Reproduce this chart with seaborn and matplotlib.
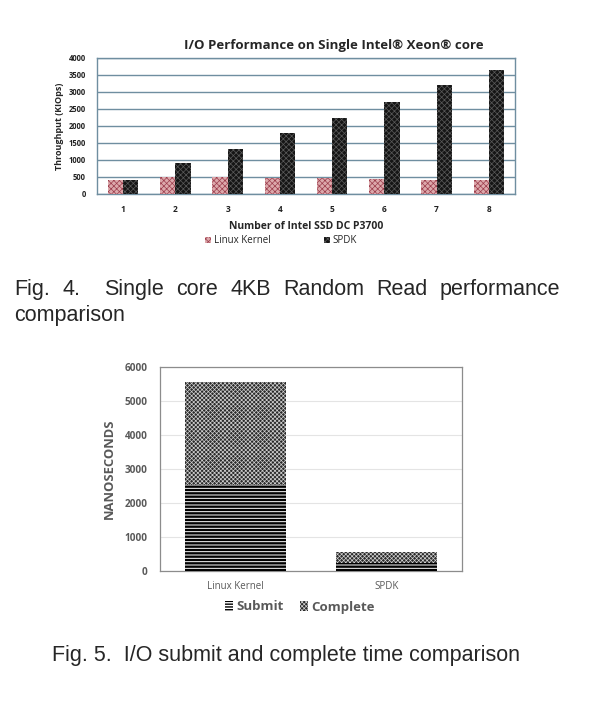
import pandas as pd
import seaborn as sns
import matplotlib
matplotlib.use("Agg")
from matplotlib import pyplot as plt
from matplotlib.patches import Patch

# fig 4 data - throughput in KIOps
ssd_count = ["1", "2", "3", "4", "5", "6", "7", "8"]
linux_kiops = [420, 490, 490, 470, 460, 440, 420, 420]
spdk_kiops = [420, 900, 1330, 1790, 2240, 2720, 3220, 3640]

# fig 5 data - nanoseconds
systems = ["Linux Kernel", "SPDK"]
submit_ns = [2530, 230]
complete_ns = [3040, 330]

cap4_words = ["Fig.", "4.", "Single", "core", "4KB", "Random", "Read", "performance"]
cap4_gaps = [1, 2, 1, 1, 1, 1, 1]   # double space after "4."


def set_hatch_lw(p, lw):
    if hasattr(p, "set_hatch_linewidth"):
        p.set_hatch_linewidth(lw)


sns.set_style("white")
plt.rcParams["font.family"] = ["Open Sans", "DejaVu Sans"]
plt.rcParams["hatch.linewidth"] = 0.5

fig = plt.figure(figsize=(5.98, 7.05), dpi=100)

# ---------------- fig 4 ----------------
ax1 = fig.add_axes([97 / 598, 1 - 194 / 705, 418 / 598, 136 / 705])
df1 = pd.DataFrame({
    "ssd": ssd_count * 2,
    "kiops": linux_kiops + spdk_kiops,
    "system": ["Linux Kernel"] * 8 + ["SPDK"] * 8,
})
sns.barplot(data=df1, x="ssd", y="kiops", hue="system", order=ssd_count,
            palette=["#dca8ab", "#1c1c1c"], width=0.58, gap=0, legend=False,
            ax=ax1, zorder=3)
styles1 = [("#dca8ab", "#9c3c4c", "xxxxxx"), ("#151515", "#5a5a5a", "xxxxxx")]
for cont, (fc, hc, h) in zip(ax1.containers, styles1):
    for p in cont:
        p.set_facecolor(fc)
        p.set_edgecolor(hc)
        p.set_hatch(h)
        p.set_linewidth(0)
        set_hatch_lw(p, 0.5)

grid_c = "#6f8ea0"
ax1.set_ylim(0, 4000)
ax1.set_yticks(range(0, 4001, 500))
ax1.set_xlim(-0.5, 7.5)
ax1.yaxis.grid(True, color=grid_c, lw=1.0, zorder=0)
ax1.set_axisbelow(True)
for s in ax1.spines.values():
    s.set_color(grid_c)
    s.set_linewidth(1.0)
ax1.tick_params(axis="y", labelsize=5.5, length=0, pad=8)
ax1.tick_params(axis="x", labelsize=6, length=0, pad=8)
for lab in ax1.get_yticklabels() + ax1.get_xticklabels():
    lab.set_fontweight("bold")
    lab.set_color("#222222")
ax1.set_xlabel("Number of Intel SSD DC P3700", fontsize=7.5, fontweight="bold",
               labelpad=5)
ax1.set_ylabel("Throughput (KIOps)", fontsize=6.5, fontweight="bold", labelpad=3)
fig.text(334 / 598, 1 - 45 / 705, "I/O Performance on Single Intel® Xeon® core",
         ha="center", va="center", fontsize=9.5, fontweight="bold")

h1 = [Patch(facecolor=fc, edgecolor=hc, hatch=h, lw=0) for fc, hc, h in styles1]
leg1 = fig.legend(h1, ["Linux Kernel", "SPDK"], loc="center",
                  bbox_to_anchor=(281 / 598, 1 - 241 / 705), ncol=2,
                  frameon=False, fontsize=7, handlelength=0.6,
                  handleheight=0.6, handletextpad=0.3, columnspacing=5.5,
                  borderpad=0)
for p in leg1.get_patches():
    set_hatch_lw(p, 0.5)

# captions
cap_font = ["Liberation Sans", "DejaVu Sans"]
cap_size = 15.5
cap_y = 1 - 290 / 705
words = [fig.text(0, cap_y, w, ha="left", va="center", fontsize=cap_size,
                  family=cap_font) for w in cap4_words]
fig.canvas.draw()
rend = fig.canvas.get_renderer()
widths = [t.get_window_extent(rend).width for t in words]
left, right = 14, 560
unit = (right - left - sum(widths)) / sum(cap4_gaps)
x = left
for i, t in enumerate(words):
    t.set_x(x / 598)
    x += widths[i]
    if i < len(cap4_gaps):
        x += unit * cap4_gaps[i]
fig.text(14 / 598, 1 - 316 / 705, "comparison", ha="left", va="center",
         fontsize=cap_size, family=cap_font)

# ---------------- fig 5 ----------------
ax2 = fig.add_axes([160 / 598, 1 - 571 / 705, 302 / 598, 204 / 705])
df2 = pd.DataFrame({"system": systems, "submit": submit_ns,
                    "complete": complete_ns})
df2["total"] = df2["submit"] + df2["complete"]
sns.barplot(data=df2, x="system", y="total", color="#333333", width=0.67,
            ax=ax2, zorder=3)
sns.barplot(data=df2, x="system", y="submit", color="white", width=0.67,
            ax=ax2, zorder=4)
style_complete = ("#2a2a2a", "#d0d0d0", "xxxxxxxx")
style_submit = ("black", "white", "-----")
for p in ax2.containers[0]:
    p.set_facecolor(style_complete[0])
    p.set_edgecolor(style_complete[1])
    p.set_hatch(style_complete[2])
    p.set_linewidth(0)
    set_hatch_lw(p, 0.5)
for p in ax2.containers[1]:
    p.set_facecolor(style_submit[0])
    p.set_edgecolor(style_submit[1])
    p.set_hatch(style_submit[2])
    p.set_linewidth(0)
    set_hatch_lw(p, 0.7)

ax2.set_ylim(0, 6000)
ax2.set_yticks(range(0, 6001, 1000))
ax2.set_xlim(-0.5, 1.5)
ax2.yaxis.grid(True, color="#e4e4e4", lw=0.8, zorder=0)
ax2.set_axisbelow(True)
for s in ax2.spines.values():
    s.set_color("#8c8c8c")
    s.set_linewidth(0.9)
ax2.tick_params(axis="y", labelsize=7.2, length=0, pad=9, labelcolor="#595959")
ax2.tick_params(axis="x", labelsize=7, length=0, pad=7, labelcolor="#595959")
for lab in ax2.get_yticklabels():
    lab.set_fontweight("bold")
ax2.set_xlabel("")
ax2.set_ylabel("NANOSECONDS", fontsize=9.4, fontweight="bold", color="#595959",
               labelpad=6)

# legend handle for submit: black lines on white, like the reference key
h2 = [Patch(facecolor="white", edgecolor="black", hatch="------", lw=0),
      Patch(facecolor=style_complete[0], edgecolor=style_complete[1],
            hatch=style_complete[2], lw=0)]
leg2 = fig.legend(h2, ["Submit", "Complete"], loc="center",
                  bbox_to_anchor=(300 / 598, 1 - 607 / 705), ncol=2,
                  frameon=False, fontsize=9.5, handlelength=0.6,
                  handleheight=0.7, handletextpad=0.3, columnspacing=1.2,
                  borderpad=0)
lw2 = [1.0, 0.5]
for p, lw in zip(leg2.get_patches(), lw2):
    set_hatch_lw(p, lw)
for t in leg2.get_texts():
    t.set_fontweight("bold")
    t.set_color("#595959")

fig.text(52 / 598, 1 - 656 / 705, "Fig. 5.  I/O submit and complete time comparison",
         ha="left", va="center", fontsize=cap_size, family=cap_font)

fig.savefig("out.png", dpi=100)
